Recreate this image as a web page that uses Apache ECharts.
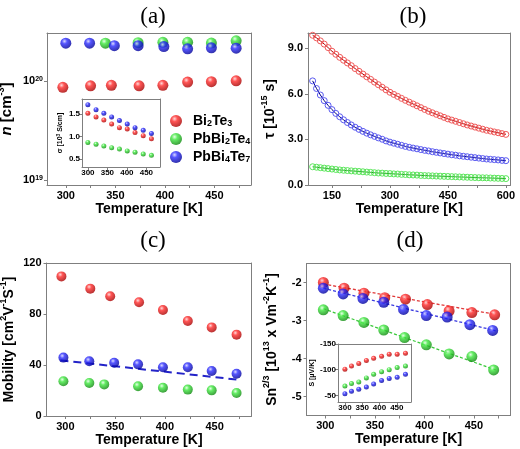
<!DOCTYPE html>
<html><head><meta charset="utf-8">
<script src="https://cdn.jsdelivr.net/npm/echarts@6/dist/echarts.min.js"></script>
<style>html,body{margin:0;padding:0;background:#fff}#c{width:520px;height:449px}</style>
</head><body><div id="c"></div>
<script>
// ---------- (a) carrier concentration ----------
const aT_Bi2Te3 = [297, 325, 346, 374, 398, 423, 447, 472];
const aN_Bi2Te3 = [0.86e20, 0.89e20, 0.90e20, 0.89e20, 0.90e20, 0.97e20, 0.98e20, 1.0e20];
const aT_PbBi2Te4 = [340, 373, 398, 423, 447, 472];
const aN_PbBi2Te4 = [2.39e20, 2.42e20, 2.44e20, 2.44e20, 2.40e20, 2.53e20];
const aT_PbBi4Te7 = [300, 324, 349, 373, 399, 423, 447, 472];
const aN_PbBi4Te7 = [2.39e20, 2.39e20, 2.26e20, 2.26e20, 2.21e20, 2.10e20, 2.15e20, 2.13e20];
// inset (a) conductivity
const insAT = [300, 321, 341, 361, 381, 401, 421, 442, 463];
const sig_Bi2Te3 = [1.52, 1.44, 1.37, 1.28, 1.20, 1.17, 1.09, 1.02, 0.95];
const sig_PbBi2Te4 = [0.87, 0.83, 0.79, 0.75, 0.72, 0.68, 0.65, 0.61, 0.58];
const sig_PbBi4Te7 = [1.71, 1.60, 1.52, 1.44, 1.36, 1.28, 1.20, 1.14, 1.07];
// ---------- (b) relaxation time ----------
const bT = [100,110,120,130,140,150,160,170,180,190,200,210,220,230,240,250,260,270,280,290,300,310,320,330,340,350,360,370,380,390,400,410,420,430,440,450,460,470,480,490,500,510,520,530,540,550,560,570,580,590,600];
const tau_Bi2Te3 = [9.85,9.68,9.48,9.27,9.04,8.80,8.60,8.40,8.21,8.03,7.85,7.66,7.48,7.30,7.12,6.95,6.77,6.60,6.43,6.26,6.10,5.96,5.83,5.70,5.57,5.45,5.33,5.21,5.09,4.97,4.85,4.75,4.65,4.55,4.45,4.35,4.27,4.19,4.11,4.03,3.95,3.88,3.81,3.74,3.67,3.60,3.55,3.49,3.44,3.38,3.33];
const tau_PbBi4Te7 = [6.85,6.35,5.92,5.55,5.24,4.96,4.71,4.49,4.29,4.11,3.95,3.80,3.66,3.53,3.41,3.30,3.20,3.10,3.01,2.90,2.82,2.75,2.68,2.61,2.54,2.48,2.43,2.38,2.33,2.28,2.24,2.19,2.15,2.11,2.07,2.03,1.99,1.96,1.92,1.89,1.86,1.83,1.80,1.77,1.74,1.71,1.69,1.67,1.65,1.62,1.60];
const tau_PbBi2Te4 = [1.20,1.17,1.14,1.11,1.08,1.05,1.02,0.99,0.97,0.95,0.93,0.91,0.89,0.87,0.85,0.83,0.81,0.79,0.78,0.76,0.75,0.73,0.72,0.70,0.69,0.67,0.66,0.65,0.63,0.62,0.61,0.60,0.59,0.58,0.57,0.56,0.55,0.54,0.53,0.52,0.51,0.50,0.49,0.48,0.475,0.47,0.46,0.45,0.44,0.43,0.42];
// ---------- (c) mobility ----------
const cT_Bi2Te3 = [296, 325, 345, 374, 398, 423, 447, 472];
const mu_Bi2Te3 = [109.5, 99.9, 93.9, 89.2, 83.1, 74.5, 69.5, 63.8];
const cT_PbBi4Te7 = [298, 324, 349, 373, 398, 423, 447, 472];
const mu_PbBi4Te7 = [45.8, 42.9, 41.8, 40.5, 38.2, 38.2, 35.3, 33.2];
const cT_PbBi2Te4 = [298, 324, 339, 373, 398, 423, 447, 472];
const mu_PbBi2Te4 = [27.2, 25.9, 24.8, 23.3, 22.2, 20.7, 20.1, 18.0];
const cFitT = [295, 473];
const cFit_PbBi4Te7 = [43.7, 28.5];
// ---------- (d) S n^(2/3) ----------
const dT_Bi2Te3 = [298, 319, 339, 360, 381, 403, 425, 448, 471];
const sn_Bi2Te3 = [-2.00, -2.15, -2.28, -2.40, -2.44, -2.58, -2.75, -2.79, -2.85];
const dT_PbBi4Te7 = [298, 318, 338, 359, 379, 402, 423, 446, 469];
const sn_PbBi4Te7 = [-2.15, -2.30, -2.42, -2.52, -2.71, -2.87, -2.91, -3.11, -3.26];
const dT_PbBi2Te4 = [298, 318, 339, 359, 380, 402, 425, 448, 470];
const sn_PbBi2Te4 = [-2.72, -2.87, -3.05, -3.25, -3.45, -3.64, -3.88, -3.95, -4.30];
const dFitT = [298, 472];
const dFit_Bi2Te3 = [-2.04, -2.84];
const dFit_PbBi4Te7 = [-2.15, -3.27];
const dFit_PbBi2Te4 = [-2.69, -4.30];
// inset (d) Seebeck
const insDT = [300, 319, 340, 362, 383, 406, 428, 451, 475];
const S_Bi2Te3 = [-101, -107, -112, -118, -122, -126, -130, -130, -132];
const S_PbBi2Te4 = [-68, -73, -76, -84, -91, -96, -100, -104, -107];
const S_PbBi4Te7 = [-53, -58, -62, -66, -72, -79, -83, -85, -91];
// tick labels
const tTicks = [300, 350, 400, 450];
const tMinor = [300, 325, 350, 375, 400, 425, 450, 475];
const bXTicks = [150, 300, 450, 600];
const bXMinor = [150, 225, 300, 375, 450, 525, 600];
const bYTicks = [0, 3, 6, 9];
const cYTicks = [0, 40, 80, 120];
const dYTicks = [-5, -4, -3, -2];
const insAYTicks = [0.5, 1.0, 1.5];
const insDYTicks = [-150, -100, -50];

const FONT = 'Liberation Sans';
const GRAY = '#7f7f7f';
const zip = (xs, ys) => xs.map((x, i) => [x, ys[i]]);
const ball = (c0, c1, c2) => ({type: 'radial', x: 0.38, y: 0.32, r: 0.68,
  colorStops: [{offset: 0, color: c0}, {offset: 0.35, color: c1}, {offset: 1, color: c2}]});
const RED = ball('#ffd0d0', '#ff2a2a', '#a80000');
const GREEN = ball('#e0ffe0', '#3ee83e', '#0e8a0e');
const BLUE = ball('#d0d0ff', '#2a2aff', '#00009a');

const nameStyle = (fs) => {
  const lh = fs < 10 ? 9 : 20;
  const base = {fontFamily: FONT, fontWeight: 'bold', color: '#000', lineHeight: lh};
  return Object.assign({}, base, {fontSize: fs,
    rich: {sup: Object.assign({}, base, {fontSize: fs < 10 ? 5 : 9, verticalAlign: 'top'}),
           i: Object.assign({}, base, {fontSize: fs, fontStyle: 'italic'})}});
};

function xAx(grid, min, max, labels, ticks, name, fs) {
  return {type: 'value', gridIndex: grid, min, max, z: 3,
    name, nameLocation: 'middle', nameGap: 17, nameTextStyle: {fontFamily: FONT, fontWeight: 'bold', fontSize: 14, color: '#000'},
    axisLine: {show: true, onZero: false, lineStyle: {color: GRAY}},
    axisTick: {show: true, length: 3, customValues: ticks, lineStyle: {color: GRAY}},
    axisLabel: {customValues: labels, fontFamily: FONT, fontWeight: 'bold', fontSize: fs || 11, color: '#000', margin: fs ? 2 : 5},
    splitLine: {show: false}, splitArea: {show: false}};
}
function yAx(grid, min, max, labels, name, fs, fmt, gap) {
  return {type: 'value', gridIndex: grid, min, max, z: 3,
    name, nameLocation: 'middle', nameGap: gap, nameTextStyle: nameStyle(fs ? 7 : 14),
    axisLine: {show: true, onZero: false, lineStyle: {color: GRAY}},
    axisTick: {show: true, length: 3, customValues: labels, lineStyle: {color: GRAY}},
    axisLabel: {customValues: labels, fontFamily: FONT, fontWeight: 'bold', fontSize: fs || 11, color: '#000', margin: fs ? 2 : 5, formatter: fmt},
    splitLine: {show: false}, splitArea: {show: false}};
}
// frame axes (top / right edges of each plot box)
function frameX(grid) {
  return {type: 'value', gridIndex: grid, position: 'top', min: 0, max: 1, z: 3,
    axisLine: {show: true, onZero: false, lineStyle: {color: GRAY}}, axisTick: {show: false}, axisLabel: {show: false},
    splitLine: {show: false}, splitArea: {show: false}};
}
function frameY(grid) {
  return {type: 'value', gridIndex: grid, position: 'right', min: 0, max: 1, z: 3,
    axisLine: {show: true, onZero: false, lineStyle: {color: GRAY}}, axisTick: {show: false}, axisLabel: {show: false},
    splitLine: {show: false}, splitArea: {show: false}};
}
const gridDefs = [[47, 33, 204, 152], [82, 99, 78, 68], [308, 33, 202.5, 152], [46.5, 263, 205, 153], [306.5, 263.5, 204, 152], [338, 344, 73, 58]];
const gridBox = (g) => ({left: g[0], top: g[1], width: g[2], height: g[3], show: false, containLabel: false, outerBoundsMode: 'none'});
// white plot-area fills underneath the marks
const whiteBoxes = gridDefs.map(g => ({type: 'rect', z: 1, silent: true,
  shape: {x: g[0] + 0.5, y: g[1] + 0.5, width: g[2] - 1, height: g[3] - 1}, style: {fill: '#ffffff', stroke: null}}));

function sc(name, xi, data, color, size) {
  return {type: 'scatter', name, xAxisIndex: xi, yAxisIndex: xi, data, symbolSize: size, itemStyle: {color}, z: 5};
}
function dash(xi, data, color, width, type) {
  return {type: 'line', xAxisIndex: xi, yAxisIndex: xi, data, showSymbol: false, symbol: 'none',
    lineStyle: {color, width, type}, z: 4};
}
function tauLine(name, data, ring, line) {
  return {type: 'line', name, xAxisIndex: 2, yAxisIndex: 2, data, symbol: 'circle', symbolSize: 6, showSymbol: true, z: 5,
    itemStyle: {color: 'rgba(255,255,255,0)', borderColor: ring, borderWidth: 1}, lineStyle: {color: line, width: 1}};
}

const subRich = {fontSize: 9, verticalAlign: 'bottom', fontWeight: 'bold', fontFamily: FONT, color: '#000'};
const legendNames = {Bi2Te3: 'Bi{s|2}Te{s|3}', PbBi2Te4: 'PbBi{s|2}Te{s|4}', PbBi4Te7: 'PbBi{s|4}Te{s|7}'};
const titleStyle = {fontFamily: 'Liberation Serif', fontSize: 23, fontWeight: 'normal', color: '#000'};

const option = {
  animation: false,
  backgroundColor: '#fff',
  graphic: whiteBoxes,
  title: [
    {text: '(a)', left: 148, top: 0, textAlign: 'center', textStyle: titleStyle},
    {text: '(b)', left: 408, top: 0, textAlign: 'center', textStyle: titleStyle},
    {text: '(c)', left: 148, top: 224, textAlign: 'center', textStyle: titleStyle},
    {text: '(d)', left: 405, top: 224, textAlign: 'center', textStyle: titleStyle}
  ],
  legend: {
    data: ['Bi2Te3', 'PbBi2Te4', 'PbBi4Te7'], orient: 'vertical', left: 165, top: 109, z: 6,
    itemWidth: 24, itemHeight: 12, itemGap: 4, icon: 'circle',
    formatter: (n) => legendNames[n],
    textStyle: {fontFamily: FONT, fontWeight: 'bold', fontSize: 14, color: '#000', lineHeight: 14, rich: {s: subRich}}
  },
  grid: gridDefs.map(gridBox),
  xAxis: [
    xAx(0, 281, 487, tTicks, tMinor, 'Temperature [K]'),
    Object.assign(xAx(1, 285, 485, tTicks, tTicks, '', 8), {name: ''}),
    xAx(2, 88, 612, bXTicks, bXMinor, 'Temperature [K]'),
    xAx(3, 281, 487, tTicks, tMinor, 'Temperature [K]'),
    xAx(4, 281, 487, tTicks, tMinor, 'Temperature [K]'),
    Object.assign(xAx(5, 280, 491, tTicks, tTicks, '', 8), {name: ''}),
    frameX(0), frameX(1), frameX(2), frameX(3), frameX(4), frameX(5)
  ],
  yAxis: [
    {type: 'log', gridIndex: 0, logBase: 10, min: 8.9e18, max: 3.03e20, z: 3,
      name: '{i|n} [cm{sup|-3}]', nameLocation: 'middle', nameGap: 30, nameTextStyle: nameStyle(15),
      axisLine: {show: true, onZero: false, lineStyle: {color: GRAY}},
      axisTick: {show: true, length: 3, lineStyle: {color: GRAY}},
      axisLabel: {showMinLabel: false, showMaxLabel: false, fontFamily: FONT, fontWeight: 'bold', fontSize: 11, color: '#000', margin: 4,
        formatter: (v) => '10{e|' + Math.round(Math.log10(v)) + '}',
        rich: {e: {fontSize: 7, verticalAlign: 'top', fontWeight: 'bold', fontFamily: FONT, color: '#000'}}},
      splitLine: {show: false}, splitArea: {show: false}},
    yAx(1, 0.32, 1.84, insAYTicks, 'σ [10{sup|3} S/cm]', 8, (v) => v.toFixed(1), -9),
    yAx(2, 0, 10, bYTicks, 'τ [10{sup|-15} s]', null, (v) => v.toFixed(1), 28),
    yAx(3, 0, 120, cYTicks, 'Mobility [cm{sup|2}V{sup|-1}S{sup|-1}]', null, (v) => String(v), 27),
    yAx(4, -5.5, -1.5, dYTicks, 'Sn{sup|2/3} [10{sup|13} x Vm{sup|-2}K{sup|-1}]', null, (v) => String(v), 24),
    Object.assign(yAx(5, -150, -37, insDYTicks, 'S [μV/K]', 8, (v) => String(v), -9), {inverse: true}),
    frameY(0), frameY(1), frameY(2), frameY(3), frameY(4), frameY(5)
  ],
  series: [
    sc('Bi2Te3', 0, zip(aT_Bi2Te3, aN_Bi2Te3), RED, 11),
    sc('PbBi2Te4', 0, zip(aT_PbBi2Te4, aN_PbBi2Te4), GREEN, 11),
    sc('PbBi4Te7', 0, zip(aT_PbBi4Te7, aN_PbBi4Te7), BLUE, 11),
    sc('i_Bi2Te3', 1, zip(insAT, sig_Bi2Te3), RED, 5),
    sc('i_PbBi2Te4', 1, zip(insAT, sig_PbBi2Te4), GREEN, 5),
    sc('i_PbBi4Te7', 1, zip(insAT, sig_PbBi4Te7), BLUE, 5),
    tauLine('b_Bi2Te3', zip(bT, tau_Bi2Te3), '#f05a5a', '#b00000'),
    tauLine('b_PbBi4Te7', zip(bT, tau_PbBi4Te7), '#5a5af0', '#000080'),
    tauLine('b_PbBi2Te4', zip(bT, tau_PbBi2Te4), '#5ae65a', '#1a9a1a'),
    dash(3, zip(cFitT, cFit_PbBi4Te7), '#2323c8', 2, [8, 5]),
    sc('c_Bi2Te3', 3, zip(cT_Bi2Te3, mu_Bi2Te3), RED, 10),
    sc('c_PbBi4Te7', 3, zip(cT_PbBi4Te7, mu_PbBi4Te7), BLUE, 10),
    sc('c_PbBi2Te4', 3, zip(cT_PbBi2Te4, mu_PbBi2Te4), GREEN, 10),
    dash(4, zip(dFitT, dFit_Bi2Te3), '#e03a3a', 1.3, [3, 2]),
    dash(4, zip(dFitT, dFit_PbBi4Te7), '#3a3ae0', 1.3, [3, 2]),
    dash(4, zip(dFitT, dFit_PbBi2Te4), '#3ac83a', 1.3, [3, 2]),
    sc('d_Bi2Te3', 4, zip(dT_Bi2Te3, sn_Bi2Te3), RED, 11),
    sc('d_PbBi4Te7', 4, zip(dT_PbBi4Te7, sn_PbBi4Te7), BLUE, 11),
    sc('d_PbBi2Te4', 4, zip(dT_PbBi2Te4, sn_PbBi2Te4), GREEN, 11),
    sc('j_Bi2Te3', 5, zip(insDT, S_Bi2Te3), RED, 5),
    sc('j_PbBi2Te4', 5, zip(insDT, S_PbBi2Te4), GREEN, 5),
    sc('j_PbBi4Te7', 5, zip(insDT, S_PbBi4Te7), BLUE, 5)
  ]
};
const chart = echarts.init(document.getElementById('c'), null, {renderer: 'canvas'});
chart.setOption(option);
</script></body></html>
